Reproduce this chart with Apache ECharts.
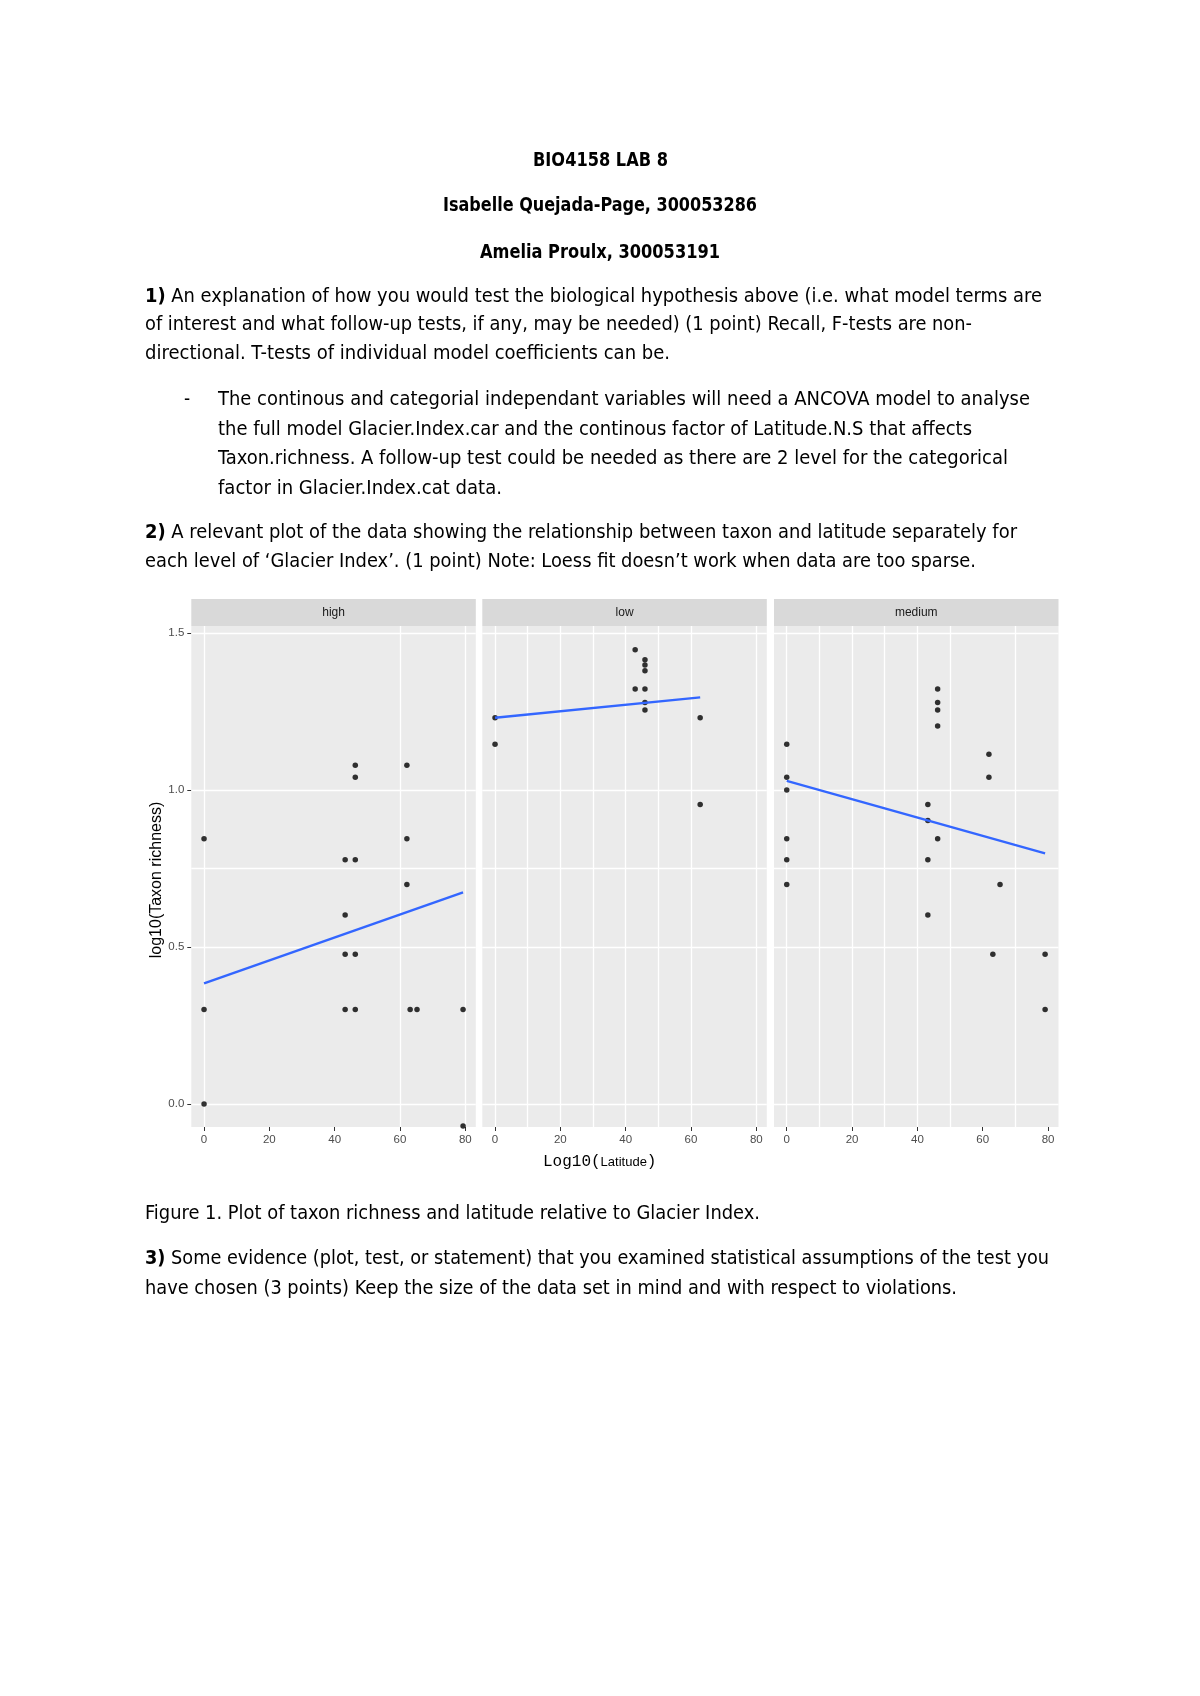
<!DOCTYPE html>
<html>
<head>
<meta charset="utf-8">
<script src="https://cdn.jsdelivr.net/npm/echarts@6/dist/echarts.min.js"></script>
<style>
  html, body { margin:0; padding:0; background:#fff; }
  #page { position:relative; width:1200px; height:1696px; overflow:hidden; }
  #chart { position:absolute; left:0; top:0; width:1200px; height:1696px; }
  .ln { position:absolute; white-space:nowrap; font-family:"Liberation Sans Narrow","DejaVu Sans Condensed","Liberation Sans",sans-serif;
        font-size:19px; line-height:19px; color:#000; transform-origin:0 0; }
</style>
</head>
<body>
<div id="page">
  <div id="chart"></div>
</div>
<script>
// ---------------- data ----------------
const facetNames = ['high', 'low', 'medium'];
const xTickValues = [0, 20, 40, 60, 80];
const yTickValues = [0, 0.5, 1.0, 1.5];

const highLatitude = [0, 43.2, 46.3, 46.3, 46.3, 62.1, 62.1, 62.1, 43.2, 43.2, 46.3, 0, 43.2, 46.3, 63.1, 65.2, 79.3, 0, 79.3];
const highRichness = [0.845, 0.778, 0.778, 1.079, 1.041, 1.079, 0.845, 0.699, 0.602, 0.477, 0.477, 0.301, 0.301, 0.301, 0.301, 0.301, 0.301, 0, -0.07];

const lowLatitude = [42.9, 45.9, 45.9, 45.9, 42.9, 45.9, 45.9, 45.9, 0, 0, 62.8, 62.8];
const lowRichness = [1.447, 1.415, 1.398, 1.380, 1.322, 1.322, 1.279, 1.255, 1.230, 1.146, 1.230, 0.954];

const mediumLatitude = [46.2, 46.2, 46.2, 46.2, 0, 61.9, 61.9, 0, 0, 43.2, 43.2, 46.2, 0, 0, 43.2, 0, 65.3, 43.2, 63.1, 79.1, 79.1];
const mediumRichness = [1.322, 1.279, 1.255, 1.204, 1.146, 1.114, 1.041, 1.041, 1.0, 0.954, 0.903, 0.845, 0.845, 0.778, 0.778, 0.699, 0.699, 0.602, 0.477, 0.477, 0.301];

// fitted lm lines (end points)
const highFitX = [0, 79.3];   const highFitY = [0.384, 0.674];
const lowFitX = [0, 62.8];    const lowFitY = [1.230, 1.295];
const mediumFitX = [0, 79.1]; const mediumFitY = [1.029, 0.798];

// ---------------- layout / style ----------------
const panelLeft = [191.3, 482.3, 774];
const panelWidth = 284.5;
const panelTop = 626, panelHeight = 501, stripHeight = 27;
const xMin = -3.9, xMax = 83.2, yMin = -0.0732, yMax = 1.5223;
// grid lines that are visible in the reference rendering
const vGrid = [[0, 60, 80], [0, 10, 20, 30, 40, 50, 60, 80], [0, 10, 20, 30, 40, 50, 70]];
const hGrid = [0, 0.5, 0.75, 1.0, 1.5];

const pts = (xs, ys) => xs.map((x, i) => [x, ys[i]]);
const scatterSets = [pts(highLatitude, highRichness), pts(lowLatitude, lowRichness), pts(mediumLatitude, mediumRichness)];
const fitSets = [pts(highFitX, highFitY), pts(lowFitX, lowFitY), pts(mediumFitX, mediumFitY)];

const axisFont = '"Liberation Sans", Arial, sans-serif';
const grids = [], xAxes = [], yAxes = [], series = [], graphics = [];

facetNames.forEach((name, i) => {
  grids.push({ left: panelLeft[i], top: panelTop, width: panelWidth, height: panelHeight,
    show: true, backgroundColor: '#EBEBEB', borderWidth: 0 });
  xAxes.push({ type: 'value', gridIndex: i, min: xMin, max: xMax, position: 'bottom',
    axisLine: { show: false, onZero: false }, splitLine: { show: false },
    axisTick: { show: true, length: 4, lineStyle: { color: '#333', width: 1 }, customValues: xTickValues },
    axisLabel: { show: true, customValues: xTickValues, color: '#4D4D4D', fontSize: 11.5, fontFamily: axisFont, margin: 7 } });
  yAxes.push({ type: 'value', gridIndex: i, min: yMin, max: yMax, position: 'left',
    axisLine: { show: false, onZero: false }, splitLine: { show: false },
    axisTick: { show: i === 0, length: 4, lineStyle: { color: '#333', width: 1 }, customValues: yTickValues },
    axisLabel: { show: i === 0, customValues: yTickValues, color: '#4D4D4D', fontSize: 11.5, fontFamily: axisFont, margin: 7,
      formatter: v => v.toFixed(1) } });

  const ml = [];
  vGrid[i].forEach(v => ml.push({ xAxis: v }));
  hGrid.forEach(v => ml.push({ yAxis: v }));

  series.push({ type: 'scatter', xAxisIndex: i, yAxisIndex: i, data: scatterSets[i], symbolSize: 5.5,
    itemStyle: { color: '#000' }, z: 3, silent: true, clip: false });
  series.push({ type: 'line', xAxisIndex: i, yAxisIndex: i, data: fitSets[i], showSymbol: false, symbol: 'none',
    lineStyle: { color: '#3366FF', width: 2.4 }, z: 4, silent: true,
    markLine: { z: 1, silent: true, symbol: ['none', 'none'], label: { show: false },
      lineStyle: { color: '#FFFFFF', width: 1.3, type: 'solid' }, emphasis: { disabled: true }, data: ml } });

  graphics.push({ type: 'rect', shape: { x: panelLeft[i], y: panelTop - stripHeight, width: panelWidth, height: stripHeight },
    style: { fill: '#D9D9D9' }, silent: true });
  graphics.push({ type: 'text', x: panelLeft[i] + panelWidth / 2, y: panelTop - stripHeight / 2,
    style: { text: name, fill: '#1A1A1A', font: '12px ' + axisFont, align: 'center', verticalAlign: 'middle' }, silent: true });
});

graphics.push({ type: 'text', x: 157, y: 880, rotation: Math.PI / 2,
  style: { text: 'log10(Taxon richness)', fill: '#000', font: '16px ' + axisFont, align: 'center', verticalAlign: 'middle' } });
graphics.push({ type: 'text', x: 543, y: 1162,
  style: { text: '{a|Log10(}{b|Latitude}{a|)}', verticalAlign: 'middle', align: 'left',
    rich: { a: { fontFamily: '"Liberation Mono", monospace', fontSize: 16, fill: '#000', color: '#000' },
            b: { fontFamily: axisFont, fontSize: 13, color: '#000' } } } });

const chart = echarts.init(document.getElementById('chart'), null, { renderer: 'canvas' });
chart.setOption({ animation: false, grid: grids, xAxis: xAxes, yAxis: yAxes, series: series, graphic: graphics });

// ---------------- document text ----------------
const lines = [
  ['<b>BIO4158 LAB 8</b>', 'c', 600, 160, 135],
  ['<b>Isabelle Quejada-Page, 300053286</b>', 'c', 600, 205, 314],
  ['<b>Amelia Proulx, 300053191</b>', 'c', 600, 251.5, 240],
  ['<b>1)</b> An explanation of how you would test the biological hypothesis above (i.e. what model terms are', 'l', 145, 295.5, 897],
  ['of interest and what follow-up tests, if any, may be needed) (1 point) Recall, F-tests are non-', 'l', 145, 324, 827],
  ['directional. T-tests of individual model coefficients can be.', 'l', 145, 353, 525],
  ['-', 'l', 184, 398.5, 0],
  ['The continous and categorial independant variables will need a ANCOVA model to analyse', 'l', 217.5, 398.5, 812],
  ['the full model Glacier.Index.car and the continous factor of Latitude.N.S that affects', 'l', 217.5, 428.5, 754],
  ['Taxon.richness. A follow-up test could be needed as there are 2 level for the categorical', 'l', 217.5, 458.3, 790],
  ['factor in Glacier.Index.cat data.', 'l', 217.5, 487.5, 284],
  ['<b>2)</b> A relevant plot of the data showing the relationship between taxon and latitude separately for', 'l', 145, 531.5, 872],
  ['each level of \u2018Glacier Index\u2019. (1 point) Note: Loess fit doesn\u2019t work when data are too sparse.', 'l', 145, 561, 831],
  ['Figure 1. Plot of taxon richness and latitude relative to Glacier Index.', 'l', 145, 1212.5, 615],
  ['<b>3)</b> Some evidence (plot, test, or statement) that you examined statistical assumptions of the test you', 'l', 145, 1258, 904],
  ['have chosen (3 points) Keep the size of the data set in mind and with respect to violations.', 'l', 145, 1288, 812]
];
const page = document.getElementById('page');
const FS = 19;
lines.forEach(([html, al, x, cy, w]) => {
  const d = document.createElement('div');
  d.className = 'ln';
  d.innerHTML = html;
  page.appendChild(d);
  const nat = d.getBoundingClientRect().width;
  const s = w > 0 ? w / nat : 1;
  const realW = w > 0 ? w : nat;
  d.style.left = (al === 'c' ? x - realW / 2 : x) + 'px';
  d.style.top = (cy - 0.52 * FS) + 'px';
  d.style.transform = 'scaleX(' + s + ')';
});
</script>
</body>
</html>
